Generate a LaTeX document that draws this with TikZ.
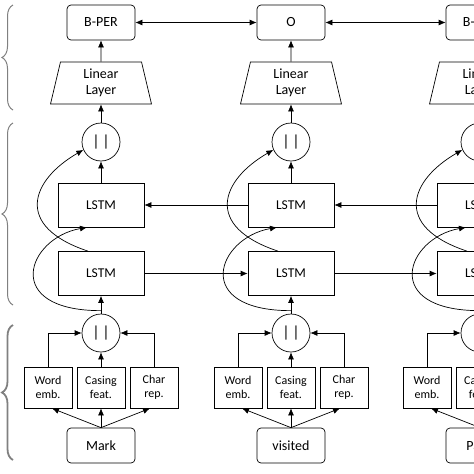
\documentclass[tikz,border=0pt]{standalone}
\usepackage{fontspec}
\setmainfont{Carlito}
\usetikzlibrary{arrows.meta,shapes.geometric,decorations.pathreplacing}

\begin{document}
\begin{tikzpicture}[x=1pt,y=-1pt,line width=0.7pt]
        \tikzset{tagbox/.style = {shape=rectangle,draw,rounded corners=4pt,minimum width=68pt,minimum height=35pt,inner sep=0pt,font=\fontsize{14}{15}\selectfont}};
        \tikzset{linear/.style = {shape=trapezium,draw,trapezium angle=70,trapezium stretches body,minimum width=101pt,minimum height=42pt,inner sep=0pt,align=center,font=\fontsize{14}{15.5}\selectfont}};
        \tikzset{concat/.style = {shape=circle,draw,minimum size=38pt,inner sep=0pt,font=\fontsize{16}{16}\selectfont}};
        \tikzset{lstm/.style = {shape=rectangle,draw,minimum width=86pt,minimum height=44pt,inner sep=0pt,font=\fontsize{13.5}{15}\selectfont}};
        \tikzset{feat/.style = {shape=rectangle,draw,minimum width=48pt,minimum height=41pt,inner sep=0pt,align=center,font=\fontsize{12}{14.5}\selectfont}};
        \tikzset{edge/.style = {->,> = {Latex[length=7pt,width=6pt]}}};
        \tikzset{brace/.style = {decorate,decoration={brace,amplitude=11pt},draw=gray,line width=1pt}};
        \useasboundingbox (0,0) rectangle (474,474);
        \clip (0,0) rectangle (474,474);
        \foreach \i/\x/\tag/\word in {1/101/B-PER/Mark,2/291/O/visited,3/480/B-LOC/Paris}{
            \node[tagbox] (t\i) at (\x,22.5) {\tag};
            \node[linear] (l\i) at (\x,83) {Linear\\Layer};
            \node[concat] (co\i) at (\x,142) {|\,|};
            \node[lstm] (bw\i) at (\x,205) {LSTM};
            \node[lstm] (fw\i) at (\x,273.5) {LSTM};
            \node[concat] (ci\i) at (\x,333) {|\,|};
            \node[feat] (we\i) at (\x-53,387.5) {Word\\emb.};
            \node[feat] (cf\i) at (\x,387.5) {Casing\\feat.};
            \node[feat] (cr\i) at (\x+53,387.5) {Char\\rep.};
            \node[tagbox] (w\i) at (\x,445.5) {\word};
            \draw[edge] (l\i) to (t\i);
            \draw[edge] (co\i) to (l\i);
            \draw[edge] (bw\i) to (co\i);
            \draw[edge] (ci\i) to (fw\i);
            \draw[edge] (cf\i) to (ci\i);
            \draw[edge] (we\i.north) |- (ci\i.west);
            \draw[edge] (cr\i.north) |- (ci\i.east);
            \draw[edge] (w\i.north) to ([xshift=4pt]we\i.south);
            \draw[edge] (w\i.north) to (cf\i.south);
            \draw[edge] (w\i.north) to ([xshift=-4pt]cr\i.south);
            \draw[edge] ([yshift=3pt]ci\i.north) .. controls +(-100,0) and +(-60,10.7) .. ([xshift=-14pt]bw\i.south);
            \draw[edge] ([xshift=-13pt]fw\i.north) .. controls +(-75,-25) and +(-52,30) .. (co\i.204);
        }
        \draw[edge,<->] (t1) to (t2);
        \draw[edge,<->] (t2) to (t3);
        \draw[edge] (bw2) to (bw1);
        \draw[edge] (bw3) to (bw2);
        \draw[edge] (fw1) to (fw2);
        \draw[edge] (fw2) to (fw3);
        \draw[brace] (13,110) -- (13,5);
        \draw[brace] (13,305) -- (13,123);
        \draw[brace,line width=1.8pt] (13,460) -- (13,325);
    \end{tikzpicture}
\end{document}
